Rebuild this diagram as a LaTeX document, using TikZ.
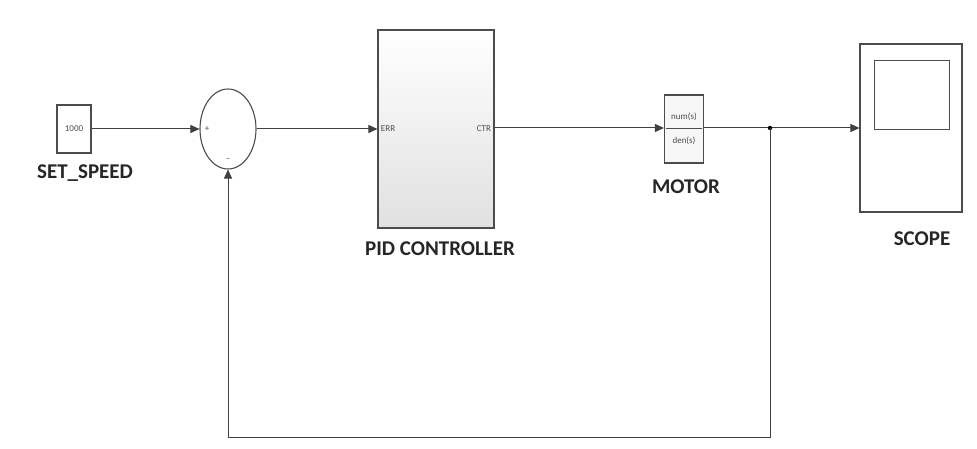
\documentclass[tikz,border=0pt]{standalone}
\usepackage{fontspec}
\setmainfont{Carlito}
\usetikzlibrary{shapes.geometric,arrows.meta}
\begin{document}
\begin{tikzpicture}[x=1pt,y=-1pt,
  blk/.style={draw=black!70,line width=1.1pt,inner sep=0},
  lbl/.style={font=\bfseries\fontsize{21}{24}\selectfont,text=black!85},
  sm/.style={font=\fontsize{9}{10}\selectfont,text=black!70},
  sig/.style={line width=1pt,draw=black!75,-{Triangle[length=9pt,width=8pt]}}]
\useasboundingbox (0,0) rectangle (977,449);
\node[blk,minimum width=34,minimum height=48] (c) at (74,129) {};
\node[sm] (ct) at (74,129) {1000};
\node[lbl] (cl) at (85,173) {SET\_SPEED};
\node[blk,ellipse,minimum width=56,minimum height=80] (s) at (228,129) {};
\node[sm] (sp) at (207,129) {+};
\node[sm] (sm) at (228,160) {--};
\node[blk,minimum width=116,minimum height=198,top color=white,bottom color=black!12] (p) at (436,129) {};
\node[sm,anchor=west] (pe) at (p.west) {ERR};
\node[sm,anchor=east] (pc) at (p.east) {CTR};
\node[lbl] (pl) at (440,249) {PID CONTROLLER};
\node[blk,minimum width=39,minimum height=68,fill=black!3] (m) at (684,129) {};
\node[sm] (mn) at (684,117) {num(s)};
\node[sm] (md) at (684,141) {den(s)};
\draw[black!70,line width=1pt] (666,129) -- (702,129);
\node[lbl] (ml) at (686,187) {MOTOR};
\node[blk,minimum width=102,minimum height=168] (sc) at (911,128) {};
\node[blk,minimum width=75,minimum height=69] (si) at (912,95) {};
\node[lbl] (sl) at (922,239) {SCOPE};
\coordinate (br) at (770,128);
\coordinate (bd) at (770,437);
\coordinate (bl) at (228,437);
\draw[sig] (c.east) -- (s.west |- c.east);
\draw[sig] (s.east) -- (p.west |- s.east);
\draw[sig] (p.east |- 0,128) -- (m.west |- 0,128);
\draw[sig] (m.east |- 0,128) -- (sc.west |- 0,128);
\fill[black] (br) circle (2.2pt);
\draw[sig] (br) -- (bd) -- (bl) -- (s.south);
\end{tikzpicture}
\end{document}
